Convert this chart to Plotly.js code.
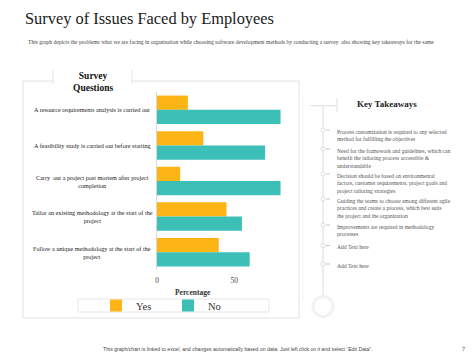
<!DOCTYPE html>
<html><head><meta charset="utf-8">
<script src="https://cdn.plot.ly/plotly-3.0.1.min.js"></script>
<style>html,body{margin:0;padding:0;background:#fff}#chart{width:474px;height:355px}</style>
</head><body><div id="chart"></div>
<script>
// ---- data ----
var categories = [
  "A resource requirements analysis is carried out",
  "A feasibility study is carried out before starting",
  "Carry  out a project post mortem after project<br>completion",
  "Tailor an existing methodology at the start of the<br>project",
  "Follow a unique methodology at the start of the<br>project"
];
var yesValues = [20, 30, 15, 45, 40];
var noValues  = [80, 70, 80, 55, 60];
var seriesNames = ["Yes", "No"];
var xTickValues = [0, 50];
var takeaways = [
  "Process customization is required to any selected<br>method for fulfilling the objectives",
  "Need for the framework and guidelines, which can<br>benefit the tailoring process accessible &amp;<br>understandable",
  "Decision should be based on environmental<br>factors, customer requirements, project goals and<br>project tailoring strategies",
  "Guiding the teams to choose among different agile<br>practices and create a process, which best suits<br>the project and the organization",
  "Improvements are required in methodology<br>processes",
  "Add Text here",
  "Add Text here"
];

// ---- geometry helpers ----
var W = 474, H = 355, ML = 157, MR = 178, MT = 92, MB = 85;
var PW = W - ML - MR, PH = H - MT - MB;
function px(x){ return (x - ML) / PW; }
function py(y){ return (H - MB - y) / PH; }

var serif = "Liberation Serif, serif";
var sans = "Liberation Sans, Arial, sans-serif";

var traces = [
  {type:"bar", orientation:"h", name:seriesNames[0], y:categories, x:yesValues,
   marker:{color:"#FDB515"}, hoverinfo:"x"},
  {type:"bar", orientation:"h", name:seriesNames[1], y:categories, x:noValues,
   marker:{color:"#3CBFB6"}, hoverinfo:"x"}
];

var ann = [];
// category labels (centered, multi-line)
categories.forEach(function(c){
  ann.push({xref:"paper", yref:"y", x:px(92), y:c, text:c, showarrow:false,
    xanchor:"center", yanchor:"middle", align:"center",
    font:{family:serif, size:6.2, color:"#222"}});
});
// axis title
ann.push({xref:"paper", yref:"paper", x:px(193), y:py(292), text:"<b>Percentage</b>",
  showarrow:false, xanchor:"center", yanchor:"middle", font:{family:serif, size:7.5, color:"#333"}});
// subtitle
ann.push({xref:"paper", yref:"paper", x:px(26), y:py(42), text:"This graph depicts the problems what we are facing in organisation while choosing software development methods by conducting a survey  also showing key takeaways for the same",
  showarrow:false, xanchor:"left", yanchor:"middle", font:{family:serif, size:5.6, color:"#444"}});
// Survey Questions header
ann.push({xref:"paper", yref:"paper", x:px(93), y:py(81.5), text:"<b>Survey<br>Questions</b>",
  showarrow:false, xanchor:"center", yanchor:"middle", align:"center", font:{family:serif, size:9.5, color:"#111"}});
// Key takeaways header
ann.push({xref:"paper", yref:"paper", x:px(387), y:py(104), text:"<b>Key Takeaways</b>",
  showarrow:false, xanchor:"center", yanchor:"middle", font:{family:serif, size:9, color:"#222"}});
// takeaways text
var takeTop = [130, 149, 174, 199, 225, 245.5, 264];
var shapes = [];
takeaways.forEach(function(t, i){
  ann.push({xref:"paper", yref:"paper", x:px(335), y:py(takeTop[i] - 3.4), text:t,
    showarrow:false, xanchor:"left", yanchor:"top", align:"left",
    font:{family:serif, size:5.6, color:"#555"}});
  shapes.push({type:"circle", xref:"paper", yref:"paper", x0:px(321), x1:px(325), y0:py(takeTop[i]-2), y1:py(takeTop[i]+2),
    line:{color:"#d6d6d6", width:0.8}, fillcolor:"#fff", layer:"above"});
  shapes.push({type:"line", xref:"paper", yref:"paper", x0:px(326), x1:px(330), y0:py(takeTop[i]), y1:py(takeTop[i]),
    line:{color:"#b8b8b8", width:0.8}});
});
// footer
ann.push({xref:"paper", yref:"paper", x:px(237), y:py(349), text:"This graph/chart is linked to excel, and changes automatically based on data. Just left click on it and select \u201cEdit Data\u201d.",
  showarrow:false, xanchor:"center", yanchor:"middle", font:{family:sans, size:5.15, color:"#444"}});
ann.push({xref:"paper", yref:"paper", x:px(463), y:py(349), text:"7",
  showarrow:false, xanchor:"center", yanchor:"middle", font:{family:sans, size:5.5, color:"#555"}});

// frame of chart panel
var fc = "#e2e2e2";
function L(x0,y0,x1,y1,c,w){ shapes.push({type:"line", xref:"paper", yref:"paper", x0:px(x0), x1:px(x1), y0:py(y0), y1:py(y1), line:{color:c||fc, width:w||1}, layer:"below"}); }
L(23,81,53,81); L(132,81,299,81); L(23,81,23,318); L(299,81,299,318); L(23,318,299,318);
L(53,70,53,84); L(132,70,132,84);
// legend box
L(78,299,269,299,"#e6e6e6"); L(78,312,269,312,"#e6e6e6"); L(78,299,78,312,"#e6e6e6"); L(269,299,269,312,"#e6e6e6");
// right panel decorations
L(310,105.7,336,105.7,"#dedede"); L(337,98,337,112,"#dedede");
L(323,105.7,323,296,"#e3e3e3",1.2);
L(303,95,303,300,"#f3f3f3");
shapes.push({type:"circle", xref:"paper", yref:"paper", x0:px(313), x1:px(333), y0:py(296.5), y1:py(316.5),
  line:{color:"#f2f2f2", width:3}, fillcolor:"#fff"});

var layout = {
  width:W, height:H, margin:{l:ML, r:MR, t:MT, b:MB, pad:0},
  paper_bgcolor:"#fff", plot_bgcolor:"#fff",
  title:{text:"Survey of Issues Faced by Employees", xref:"container", yref:"container",
    x:25/W, xanchor:"left", y:1-18/H, yanchor:"middle",
    font:{family:serif, size:16.4, color:"#1a1a1a"}},
  barmode:"group", bargap:0.2, bargroupgap:0,
  xaxis:{range:[0,90], tickvals:xTickValues, ticktext:xTickValues.map(String), showgrid:false, zeroline:false,
    showline:false, ticks:"", ticklabelstandoff:4, tickfont:{family:serif, size:7.5, color:"#444"}, fixedrange:true},
  yaxis:{type:"category", autorange:"reversed", showticklabels:false, showgrid:false, zeroline:false,
    showline:true, linecolor:"#d9d9d9", linewidth:1, ticks:"", fixedrange:true},
  showlegend:true,
  legend:{orientation:"h", x:px(96), xanchor:"left", y:py(305.5), yanchor:"middle",
    font:{family:serif, size:10.5, color:"#333"}, bgcolor:"rgba(0,0,0,0)", borderwidth:0,
    entrywidth:27, entrywidthmode:"pixels", traceorder:"normal", itemclick:false},
  annotations:ann, shapes:shapes
};
Plotly.newPlot("chart", traces, layout, {displayModeBar:false, staticPlot:true});
</script></body></html>
